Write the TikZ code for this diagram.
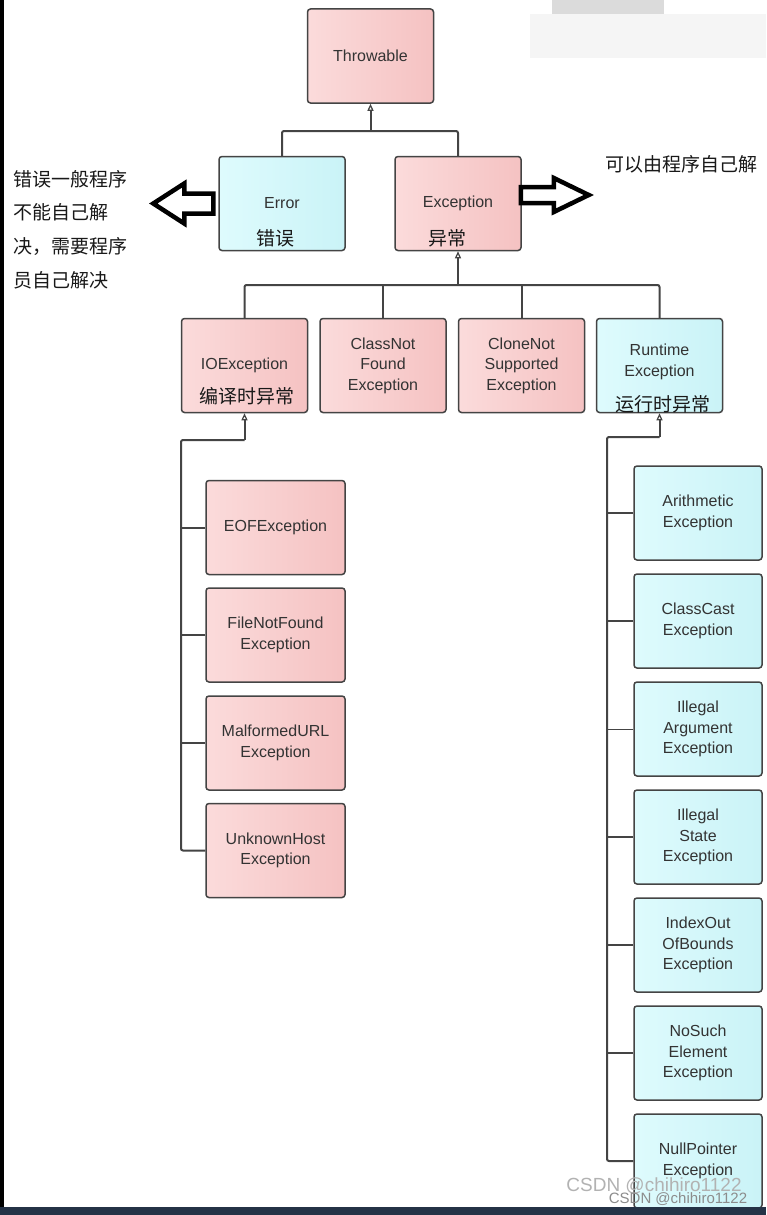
\documentclass[tikz,border=0pt]{standalone}
\usepackage{fontspec}
\setmainfont{Liberation Sans}
\newfontfamily\cjk{Noto Sans CJK SC}
\usetikzlibrary{arrows.meta}
\definecolor{pinkA}{HTML}{FBDBDB}
\definecolor{pinkB}{HTML}{F5C2C2}
\definecolor{cyanA}{HTML}{DEFBFD}
\definecolor{cyanB}{HTML}{CAF3F7}
\definecolor{edge}{HTML}{444444}
\definecolor{band}{HTML}{243246}

\begin{document}
\begin{tikzpicture}
				[x=1pt, y=-1pt,
				box/.style = {draw=edge, line width=1.5pt, rounded corners=3pt,
				minimum width=126pt, minimum height=94pt, inner sep=0pt,
				align=center, text=black!80, font=\fontsize{16}{20.5}\selectfont},
				exc/.style = {box, left color=pinkA, right color=pinkB},
				err/.style = {box, left color=cyanA, right color=cyanB},
				ioleaf/.style = {exc, minimum width=139pt},
				rtleaf/.style = {err, minimum width=128pt},
				cn/.style = {inner sep=0pt, text=black!90, font=\cjk\fontsize{19}{24}\selectfont},
				note/.style = {inner sep=0pt, align=left, text=black!90,
				font=\cjk\fontsize{19}{33.7}\selectfont},
				link/.style = {draw=edge, line width=2pt, rounded corners=2pt},
				tri/.style = {link, -{Triangle[open, length=7pt, width=6pt, line width=1.2pt]}},
				fat/.style = {draw=black, fill=white, line width=4.5pt, line join=miter}]
				\useasboundingbox (0,0) rectangle (766,1215);
				\fill[white] (0,0) rectangle (766,1215);
				\fill[black!14] (552,0) rectangle (664,14);
				\fill[black!4] (530,14) rectangle (766,58);
				\node[exc] (throwable) at (370.5, 56) {Throwable};
				\node[err] (error) at (282, 203.5) {Error};
				\node[exc] (exception) at (458, 203.5) {Exception};
				\node[exc] (ioexc) at (244.5, 365.5) {IOException};
				\node[exc] (cnfexc) at (383, 365.5) {ClassNot\\Found\\Exception};
				\node[exc] (cnsexc) at (521.5, 365.5) {CloneNot\\Supported\\Exception};
				\node[err] (rtexc) at (659.5, 365.5) {};
				\node[ioleaf] (eofexc) at (275.5, 527.5) {EOFException};
				\node[ioleaf] (fnfexc) at (275.5, 635) {FileNotFound\\Exception};
				\node[ioleaf] (urlexc) at (275.5, 743) {MalformedURL\\Exception};
				\node[ioleaf] (hostexc) at (275.5, 850.5) {UnknownHost\\Exception};
				\node[rtleaf] (arithexc) at (698, 513) {Arithmetic\\Exception};
				\node[rtleaf] (castexc) at (698, 621) {ClassCast\\Exception};
				\node[rtleaf] (argexc) at (698, 729) {Illegal\\Argument\\Exception};
				\node[rtleaf] (stateexc) at (698, 837) {Illegal\\State\\Exception};
				\node[rtleaf] (indexexc) at (698, 945) {IndexOut\\OfBounds\\Exception};
				\node[rtleaf] (suchexc) at (698, 1053) {NoSuch\\Element\\Exception};
				\node[rtleaf] (nullexc) at (698, 1161) {NullPointer\\Exception};
				\node[align=center, text=black!80, font=\fontsize{16}{20.5}\selectfont] (rttext) at (659.5, 362) {Runtime\\Exception};
				\node[cn] (errcn) at (275, 238) {错误};
				\node[cn] (exccn) at (447, 238) {异常};
				\node[cn] (iocn) at (247, 396) {编译时异常};
				\node[cn] (rtcn) at (663, 404) {运行时异常};
				\node[note, anchor=north west] (errnote) at (13, 170) {错误一般程序\\不能自己解\\决，需要程序\\员自己解决};
				\node[note, anchor=west] (excnote) at (605, 164) {可以由程序自己解};
				\coordinate (throwjoin) at (370.5, 131);
				\coordinate (excjoin) at (458, 285);
				\coordinate (iojoin) at (244.5, 440);
				\coordinate (iotrunk) at (181, 440);
				\coordinate (rtjoin) at (659.5, 437);
				\coordinate (rttrunk) at (607, 437);
				\draw[tri] (throwjoin) -- (throwable.south);
				\draw[link] (error.north) |- (throwjoin) -| (exception.north);
				\draw[tri] (excjoin) -- (exception.south);
				\draw[link] (ioexc.north) |- (excjoin) -| (rtexc.north);
				\draw[link] (cnfexc.north) -- (cnfexc.north |- excjoin);
				\draw[link] (cnsexc.north) -- (cnsexc.north |- excjoin);
				\draw[tri] (iojoin) -- (ioexc.south);
				\draw[link] (iojoin) -- (iotrunk) |- (hostexc.west);
				\draw[link] (eofexc.west) -- (eofexc.west -| iotrunk);
				\draw[link] (fnfexc.west) -- (fnfexc.west -| iotrunk);
				\draw[link] (urlexc.west) -- (urlexc.west -| iotrunk);
				\draw[tri] (rtjoin) -- (rtexc.south);
				\draw[link] (rtjoin) -- (rttrunk) |- (nullexc.west);
				\draw[link] (arithexc.west) -- (arithexc.west -| rttrunk);
				\draw[link] (castexc.west) -- (castexc.west -| rttrunk);
				\draw[link, line width=1pt] (argexc.west) -- (argexc.west -| rttrunk);
				\draw[link] (stateexc.west) -- (stateexc.west -| rttrunk);
				\draw[link] (indexexc.west) -- (indexexc.west -| rttrunk);
				\draw[link] (suchexc.west) -- (suchexc.west -| rttrunk);
				\draw[fat] ([xshift=-5pt]error.west) ++(0,-10) -- ++(-29,0) -- ++(0,-10)
				-- ++(-31,20) -- ++(31,20) -- ++(0,-10) -- ++(29,0) -- cycle;
				\draw[fat] (exception.east) ++(-1,-16.5) -- ++(33,0) -- ++(0,-9)
				-- ++(35,17) -- ++(-35,17) -- ++(0,-9) -- ++(-33,0) -- cycle;
				\node[text=black!30, font=\fontsize{19}{20}\selectfont] (mark) at (654, 1186) {CSDN @chihiro1122};
				\node[text=black!45, font=\fontsize{15}{16}\selectfont] (markb) at (678, 1199) {CSDN @chihiro1122};
				\fill[black] (0,0) rectangle (4,1208);
				\fill[band] (0,1207) rectangle (766,1215);
			\end{tikzpicture}
\end{document}
